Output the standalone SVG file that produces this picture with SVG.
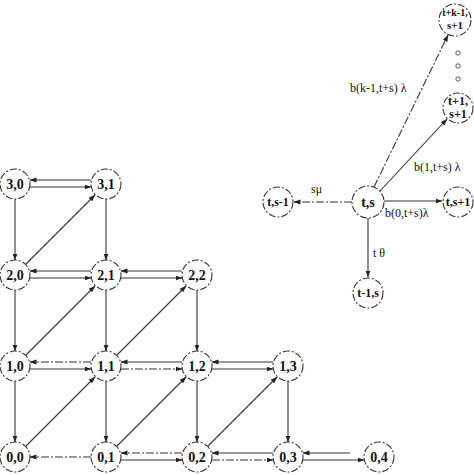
<svg xmlns="http://www.w3.org/2000/svg" width="474" height="475" viewBox="0 0 474 475">
<defs>
<marker id="ah" markerWidth="7" markerHeight="6" refX="6.5" refY="3" orient="auto" markerUnits="userSpaceOnUse">
<path d="M0,0.5 L7,3 L0,5.5 Z" fill="#222"/>
</marker>
<style>
.n circle{fill:#fff;stroke:#333;stroke-width:1.1;stroke-dasharray:7 2 2 2}
.n text{font-family:"Liberation Serif",serif;font-size:14px;fill:#111;text-anchor:middle;font-weight:bold}
.c line{stroke:#333;stroke-width:1.1;marker-end:url(#ah)}
.c line.d{stroke-dasharray:8 2 2 2}
.lb{font-family:"Liberation Serif",serif;font-size:12px;fill:#111}
.dot{fill:none;stroke:#444;stroke-width:0.9}
</style>
</defs>
<rect width="474" height="475" fill="#fff"/>
<g id="connectors" class="c">
<line x1="15" y1="199" x2="15" y2="260"/>
<line x1="106" y1="199" x2="106" y2="260"/>
<line x1="15" y1="290" x2="15" y2="351"/>
<line x1="106" y1="290" x2="106" y2="351"/>
<line x1="197" y1="290" x2="197" y2="351"/>
<line x1="15" y1="381" x2="15" y2="442"/>
<line x1="106" y1="381" x2="106" y2="442"/>
<line x1="197" y1="381" x2="197" y2="442"/>
<line x1="288" y1="381" x2="288" y2="442"/>
<line x1="26" y1="264" x2="95" y2="195"/>
<line x1="26" y1="355" x2="95" y2="286"/>
<line x1="117" y1="355" x2="186" y2="286"/>
<line x1="26" y1="446" x2="95" y2="377"/>
<line x1="117" y1="446" x2="186" y2="377"/>
<line x1="208" y1="446" x2="277" y2="377"/>
<line x1="91" y1="180" x2="30" y2="180"/>
<line x1="30" y1="187" x2="91" y2="187"/>
<line x1="91" y1="271" x2="30" y2="271"/>
<line x1="30" y1="278" x2="91" y2="278"/>
<line x1="182" y1="271" x2="121" y2="271"/>
<line x1="121" y1="278" x2="182" y2="278"/>
<line x1="91" y1="362" x2="30" y2="362" class="d"/>
<line x1="30" y1="369" x2="91" y2="369"/>
<line x1="182" y1="362" x2="121" y2="362"/>
<line x1="121" y1="369" x2="182" y2="369" class="d"/>
<line x1="273" y1="362" x2="212" y2="362"/>
<line x1="212" y1="369" x2="273" y2="369"/>
<line x1="91" y1="457" x2="30" y2="457" class="d"/>
<line x1="182" y1="453" x2="121" y2="453" class="d"/>
<line x1="121" y1="460" x2="182" y2="460"/>
<line x1="273" y1="453" x2="212" y2="453"/>
<line x1="212" y1="460" x2="273" y2="460" class="d"/>
<line x1="350" y1="453" x2="303" y2="453"/>
<line x1="303" y1="460" x2="364" y2="460"/>
<line x1="352" y1="202" x2="294" y2="202" class="d"/>
<line x1="384" y1="201" x2="442" y2="201"/>
<line x1="368" y1="218" x2="368" y2="277"/>
<line x1="380" y1="191" x2="447" y2="119"/>
<line x1="374" y1="187" x2="448" y2="35" class="d"/>
</g>
<text class="lb" x="311" y="193">sμ</text>
<text class="lb" x="385" y="217">b(0,t+s)λ</text>
<text class="lb" x="414" y="171">b(1,t+s) λ</text>
<text class="lb" x="373" y="257">t θ</text>
<text class="lb" x="350" y="92">b(k-1,t+s) λ</text>
<circle class="dot" cx="458" cy="53" r="2.2"/>
<circle class="dot" cx="458" cy="66" r="2.2"/>
<circle class="dot" cx="458" cy="79" r="2.2"/>
<g id="n30" class="n"><circle cx="15" cy="184" r="15"/><text x="15" y="189">3,0</text></g>
<g id="n31" class="n"><circle cx="106" cy="184" r="15"/><text x="106" y="189">3,1</text></g>
<g id="n20" class="n"><circle cx="15" cy="275" r="15"/><text x="15" y="280">2,0</text></g>
<g id="n21" class="n"><circle cx="106" cy="275" r="15"/><text x="106" y="280">2,1</text></g>
<g id="n22" class="n"><circle cx="197" cy="275" r="15"/><text x="197" y="280">2,2</text></g>
<g id="n10" class="n"><circle cx="15" cy="366" r="15"/><text x="15" y="371">1,0</text></g>
<g id="n11" class="n"><circle cx="106" cy="366" r="15"/><text x="106" y="371">1,1</text></g>
<g id="n12" class="n"><circle cx="197" cy="366" r="15"/><text x="197" y="371">1,2</text></g>
<g id="n13" class="n"><circle cx="288" cy="366" r="15"/><text x="288" y="371">1,3</text></g>
<g id="n00" class="n"><circle cx="15" cy="457" r="15"/><text x="15" y="462">0,0</text></g>
<g id="n01" class="n"><circle cx="106" cy="457" r="15"/><text x="106" y="462">0,1</text></g>
<g id="n02" class="n"><circle cx="197" cy="457" r="15"/><text x="197" y="462">0,2</text></g>
<g id="n03" class="n"><circle cx="288" cy="457" r="15"/><text x="288" y="462">0,3</text></g>
<g id="n04" class="n"><circle cx="379" cy="457" r="15"/><text x="379" y="462">0,4</text></g>
<g id="nts" class="n"><circle cx="368" cy="202" r="16"/><text x="368" y="207">t,s</text></g>
<g id="ntsm" class="n"><circle cx="278" cy="202" r="15"/><text x="278" y="206" style="font-size:12px">t,s-1</text></g>
<g id="ntsp" class="n"><circle cx="458" cy="202" r="15"/><text x="458" y="206" style="font-size:12px">t,s+1</text></g>
<g id="ntm" class="n"><circle cx="368" cy="293" r="15"/><text x="368" y="297" style="font-size:12px">t-1,s</text></g>
<g id="ntp1" class="n"><circle cx="458" cy="108" r="15"/><text x="458" y="105" style="font-size:12px">t+1,</text><text x="458" y="118" style="font-size:12px">s+1</text></g>
<g id="ntpk" class="n"><circle cx="455" cy="20" r="16"/><text x="455" y="16" style="font-size:10px">t+k-1,</text><text x="455" y="29" style="font-size:11px">s+1</text></g>
</svg>
